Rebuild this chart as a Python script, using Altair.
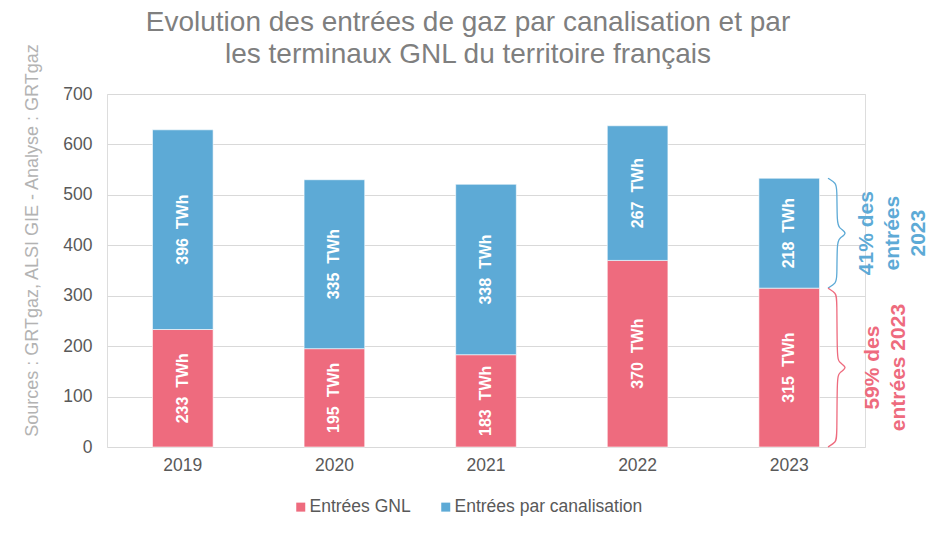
import altair as alt
import pandas as pd

# Gas entries into France (TWh), by route and year
years = ["2019", "2020", "2021", "2022", "2023"]
gnl = [233, 195, 183, 370, 315]          # LNG terminals
canalisation = [396, 335, 338, 267, 218]  # pipelines

series = ["Entrées GNL", "Entrées par canalisation"]
colors = ["#EE6B7E", "#5DAAD6"]

rows = []
for y, g, c in zip(years, gnl, canalisation):
    rows.append({"annee": y, "flux": series[0], "twh": g, "ordre": 0,
                 "y0": 0, "y1": g})
    rows.append({"annee": y, "flux": series[1], "twh": c, "ordre": 1,
                 "y0": g, "y1": g + c})
df = pd.DataFrame(rows)
df["mid"] = (df["y0"] + df["y1"]) / 2
df["label"] = df["twh"].astype(str) + "\u00a0\u00a0TWh"

W, H = 758, 353
FONT = "Liberation Sans"
band = alt.Scale(paddingInner=0.6, paddingOuter=0.3)
y_scale = alt.Scale(domain=[0, 700])

bars = alt.Chart(df).mark_bar(stroke="#ffffff", strokeWidth=0.6).encode(
    x=alt.X("annee:N", title=None, scale=band,
            axis=alt.Axis(labelAngle=0, labelFontSize=17.5, labelColor="#595959",
                          labelFont=FONT, ticks=False, domain=False,
                          labelPadding=9)),
    y=alt.Y("y0:Q", scale=y_scale,
            title="Sources : GRTgaz, ALSI GIE - Analyse : GRTgaz",
            axis=alt.Axis(values=list(range(0, 701, 100)), labelFontSize=17.5,
                          labelColor="#595959", labelFont=FONT, labelPadding=15,
                          ticks=False, domain=False, gridColor="#D9D9D9",
                          gridWidth=1.2, titleFont=FONT, titleFontSize=18,
                          titleFontWeight="normal", titleColor="#B3B3B3",
                          titleAngle=270, titleX=-75, titleY=146,
                          titleAlign="center", titleBaseline="middle")),
    y2="y1:Q",
    color=alt.Color("flux:N", scale=alt.Scale(domain=series, range=colors),
                    legend=alt.Legend(title=None, orient="none", direction="horizontal",
                                      legendX=185, legendY=404, symbolType="square",
                                      symbolSize=81, symbolStrokeWidth=0,
                                      labelFontSize=17.5, labelColor="#595959",
                                      labelFont=FONT, labelOffset=0, labelLimit=0,
                                      columnPadding=26)),
    order=alt.Order("ordre:Q"),
)

labels = alt.Chart(df).mark_text(angle=270, color="white", fontWeight="bold",
                                 fontSize=16, font=FONT, baseline="middle",
                                 align="center").encode(
    x=alt.X("annee:N", scale=band, axis=None),
    y=alt.Y("mid:Q", scale=y_scale),
    text="label:N",
)

# Curly braces beside the 2023 bar, built from its two segments
g23, c23 = gnl[-1], canalisation[-1]
brace_rows = []
for name, a, b in [("canal", g23, g23 + c23), ("gnl", 0, g23)]:
    m = (a + b) / 2
    k = 10
    pts = [(721, b), (729, b - k), (730, b - 2 * k), (730, m + 2 * k),
           (732, m + k), (741, m), (732, m - k), (730, m - 2 * k),
           (730, a + 2 * k), (729, a + k), (721, a)]
    for i, (px, v) in enumerate(pts):
        brace_rows.append({"brace": name, "i": i, "px": px, "v": v})
braces_df = pd.DataFrame(brace_rows)

braces = alt.Chart(braces_df).mark_line(interpolate="basis", strokeWidth=1.3).encode(
    x=alt.X("px:Q", scale=alt.Scale(domain=[0, W]), axis=None),
    y=alt.Y("v:Q", scale=y_scale),
    color=alt.Color("brace:N", scale=alt.Scale(domain=["gnl", "canal"],
                                               range=colors), legend=None),
    order="i:Q",
    detail="brace:N",
)

notes_df = pd.DataFrame({
    "txt": [["59% des", "entrées 2023"], ["41% des", "entrées", "2023"]],
    "v": [g23 / 2, g23 + c23 / 2],
    "px": [766, 760],
    "c": colors,
})
notes = alt.Chart(notes_df).mark_text(angle=270, fontWeight="bold", fontSize=21,
                                      font=FONT, baseline="middle", align="center",
                                      lineHeight=26).encode(
    x=alt.X("px:Q", scale=alt.Scale(domain=[0, W]), axis=None),
    y=alt.Y("v:Q", scale=y_scale),
    text="txt",
    color=alt.Color("c:N", scale=None),
)

chart = alt.layer(bars, labels, braces, notes).resolve_scale(
    x="independent", color="independent"
).properties(
    width=W, height=H,
    title=alt.TitleParams(
        ["Evolution des entrées de gaz par canalisation et par",
         "les terminaux GNL du territoire français"],
        font=FONT, fontSize=28, fontWeight="normal", color="#7F7F7F",
        anchor="middle", dx=-18, dy=32, offset=6, lineHeight=32),
    padding={"left": 107, "top": 94, "right": 80, "bottom": 93},
    autosize=alt.AutoSizeParams(type="none"),
).configure_view(stroke=None).configure(background="white")

chart.save("out.html", embed_options={"renderer": "svg", "actions": False})
